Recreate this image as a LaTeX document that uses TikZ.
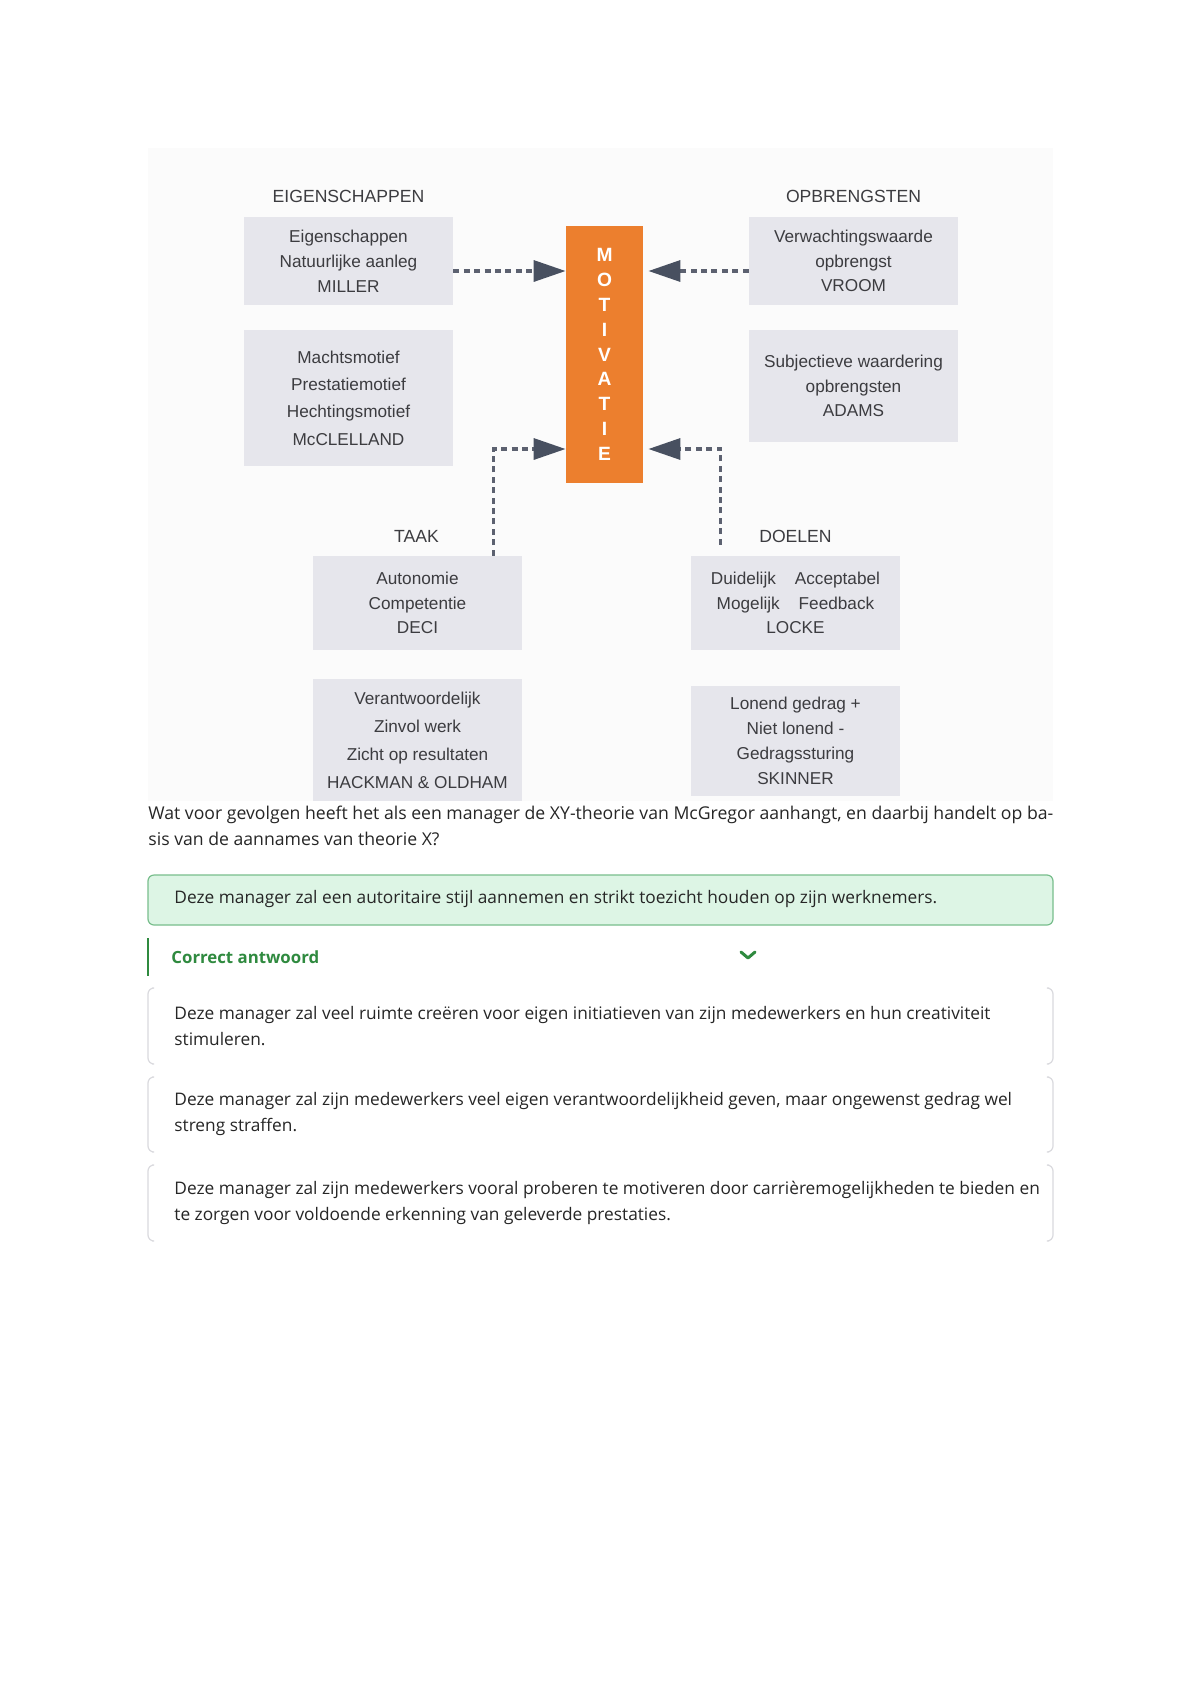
\documentclass[tikz,border=0pt]{standalone}
\usepackage{fontspec}
\setmainfont{Liberation Sans}
\newfontfamily\quizfont{Open Sans}
\usepackage{tikz}
\usetikzlibrary{positioning, arrows.meta}
\usepackage{xcolor}
\definecolor{boxgray}{RGB}{230,230,236}
\definecolor{diagbg}{RGB}{251,251,251}
\definecolor{motivorange}{RGB}{236,127,46}
\definecolor{flowgray}{RGB}{92,97,112}
\definecolor{headgray}{RGB}{72,80,96}
\definecolor{boxtext}{RGB}{60,60,64}
\definecolor{answerfill}{RGB}{221,245,229}
\definecolor{answerline}{RGB}{120,190,140}
\definecolor{correctgreen}{RGB}{47,138,63}
\definecolor{optionline}{RGB}{218,218,222}

\begin{document}
\begin{tikzpicture}[x=0.5pt, y=-0.5pt]
  \tikzset{
    infobox/.style={
      fill=boxgray,
      minimum width=104.5pt,
      inner sep=0pt,
      align=center,
      text=boxtext,
      font=\fontsize{8.6}{12.4}\selectfont
    },
    tallbox/.style={
      infobox,
      font=\fontsize{8.6}{13.7}\selectfont
    },
    heading/.style={
      text=boxtext,
      font=\fontsize{8.8}{11}\selectfont
    },
    motivbox/.style={
      fill=motivorange,
      minimum width=38.5pt,
      minimum height=128.5pt,
      inner sep=0pt,
      align=center,
      text=white,
      font=\fontsize{9.6}{12.4}\selectfont\bfseries
    },
    flow/.style={
      draw=flowgray,
      line width=1.7pt,
      dash pattern=on 3pt off 2.2pt,
      -{Triangle[length=16pt,width=10.5pt,fill=headgray,color=headgray]}
    },
    quiz/.style={
      anchor=west,
      align=left,
      inner sep=0pt,
      text=black!85,
      font=\quizfont\fontsize{8.65}{13}\selectfont
    },
    option/.style={
      draw=optionline,
      line width=0.6pt,
      rounded corners=3pt
    }
  }

  \useasboundingbox (0,0) rectangle (1200,1698);
  \fill[white] (0,0) rectangle (1200,1698);

  % Draw the diagram area
  \fill[diagbg] (148,148) rectangle (1053,801);

  \node[motivbox] at (604.5,354.5) (motivatie) {M\\O\\T\\I\\V\\A\\T\\I\\E};

  % Left column: eigenschappen
  \node[heading] at (348.5,196) (eighead) {EIGENSCHAPPEN};
  \node[infobox, minimum height=44pt] at (348.5,261) (eig) {
      Eigenschappen\\Natuurlijke aanleg\\MILLER
  };
  \node[tallbox, minimum height=68pt] at (348.5,398) (mcclelland) {
      Machtsmotief\\Prestatiemotief\\Hechtingsmotief\\McCLELLAND
  };

  % Right column: opbrengsten
  \node[heading] at (853.5,196) (opbhead) {OPBRENGSTEN};
  \node[infobox, minimum height=44pt] at (853.5,261) (vroom) {
      Verwachtingswaarde\\opbrengst\\VROOM
  };
  \node[infobox, minimum height=56pt] at (853.5,386) (adams) {
      Subjectieve waardering\\opbrengsten\\ADAMS
  };

  % Bottom left: taak
  \node[heading] at (416.5,536) (taakhead) {TAAK};
  \node[infobox, minimum height=47pt] at (417.5,603) (deci) {
      Autonomie\\Competentie\\DECI
  };
  \node[tallbox, font=\fontsize{8.6}{14}\selectfont, minimum height=61pt] at (417.5,740) (hackman) {
      Verantwoordelijk\\Zinvol werk\\Zicht op resultaten\\HACKMAN \& OLDHAM
  };

  % Bottom right: doelen
  \node[heading] at (795.5,536) (doelhead) {DOELEN};
  \node[infobox, minimum height=47pt] at (795.5,603) (locke) {
      Duidelijk\hspace{1.1em}Acceptabel\\Mogelijk\hspace{1.1em}Feedback\\LOCKE
  };
  \node[infobox, minimum height=55pt] at (795.5,741) (skinner) {
      Lonend gedrag +\\Niet lonend -\\Gedragssturing\\SKINNER
  };

  % Arrows into motivatie
  \coordinate (inhigh) at (604.5,271);
  \coordinate (inlow) at (604.5,449);
  \draw[flow] (eig.east |- inhigh) -- (motivatie.west |- inhigh);
  \draw[flow] (vroom.west |- inhigh) -- ([xshift=2.5pt]motivatie.east |- inhigh);
  \draw[flow] ([xshift=-14.5pt]deci.north east) |- (motivatie.west |- inlow);
  \draw[flow] ([xshift=15pt,yshift=5.5pt]locke.north west) |- ([xshift=2.5pt]motivatie.east |- inlow);

  % Question and answers
  \node[quiz, font=\quizfont\fontsize{8.82}{13}\selectfont] at (148,826) (question) {
      Wat voor gevolgen heeft het als een manager de XY-theorie van McGregor aanhangt, en daarbij handelt op ba-\\
      sis van de aannames van theorie X?
  };

  \draw[draw=answerline, fill=answerfill, line width=0.6pt, rounded corners=3pt]
    (148,875) rectangle (1053,925);
  \node[quiz] at (174,899) (chosen) {
      Deze manager zal een autoritaire stijl aannemen en strikt toezicht houden op zijn werknemers.
  };

  \draw[correctgreen, line width=0.8pt] (148,938) -- (148,976);
  \node[quiz, text=correctgreen, font=\quizfont\bfseries\fontsize{8.4}{13}\selectfont]
    at (171,957) (correct) {Correct antwoord};
  \draw[correctgreen, line width=1.5pt, line cap=round, line join=round]
    (741,952) -- (748,958) -- (755,952);

  % Option boxes, only their sides show
  \foreach \top/\bot in {988/1064, 1077/1152, 1165/1241} {
    \draw[option] (152,\top) -| (148,\bot) -- (152,\bot);
    \draw[option] (1049,\top) -| (1053,\bot) -- (1049,\bot);
  }
  \node[quiz] at (174,1026) (optone) {
      Deze manager zal veel ruimte creëren voor eigen initiatieven van zijn medewerkers en hun creativiteit\\
      stimuleren.
  };
  \node[quiz] at (174,1114) (opttwo) {
      Deze manager zal zijn medewerkers veel eigen verantwoordelijkheid geven, maar ongewenst gedrag wel\\
      streng straffen.
  };
  \node[quiz] at (174,1203) (optthree) {
      Deze manager zal zijn medewerkers vooral proberen te motiveren door carrièremogelijkheden te bieden en\\
      te zorgen voor voldoende erkenning van geleverde prestaties.
  };

\end{tikzpicture}
\end{document}
